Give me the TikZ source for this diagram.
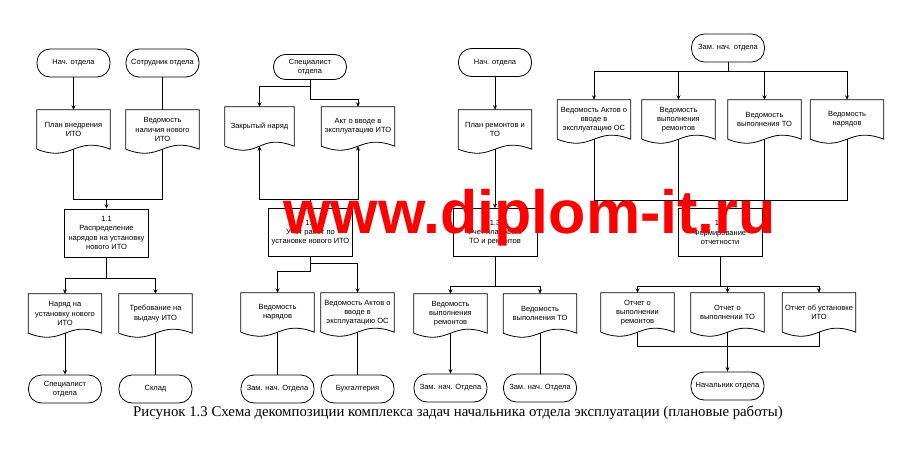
\documentclass[tikz,border=0pt]{standalone}
\usepackage{fontspec}
\newfontfamily\labfont{Liberation Sans}
\newfontfamily\capfont{Liberation Serif}
\newfontfamily\wmfont{Liberation Sans}
\usetikzlibrary{arrows.meta,calc}
\newcommand\lblfnt{\labfont\fontsize{7.5}{9.3}\selectfont}
\begin{document}
\begin{tikzpicture}[x=1pt,y=-1pt,
  term/.style={draw, line width=0.8pt, rounded corners=13pt, minimum width=73pt, minimum height=28pt, inner sep=0pt, align=center, font=\lblfnt},
  proc/.style={draw, line width=0.8pt, minimum width=84pt, minimum height=48pt, inner sep=0pt, align=center, font=\lblfnt},
  doc/.style={minimum width=73pt, minimum height=39pt, inner sep=0pt, align=center, font=\lblfnt},
  docline/.style={line width=0.8pt},
  conn/.style={line width=1pt},
  arr/.style={conn, -{Stealth[length=4.5pt,width=4pt]}}]
\fill[white] (0,0) rectangle (900,460);
\useasboundingbox (0,0) rectangle (900,460);
% column 1
\node[term] (t11) at (73.5,63) {Нач. отдела};
\node[term] (t12) at (162.5,63) {Сотрудник отдела};
\node[doc] (d11) at (73.5,129.5) {План внедрения\\ИТО};
\node[doc] (d12) at (162.5,129.5) {Ведомость\\наличия нового\\ИТО};
\node[proc] (p11) at (106.5,233) {1.1\\Распределение\\нарядов на установку\\нового ИТО};
\node[doc] (d13) at (65,313.5) {Наряд на\\установку нового\\ИТО};
\node[doc] (d14) at (155.5,313.5) {Требование на\\выдачу ИТО};
\node[term] (t13) at (65,389) {Специалист\\отдела};
\node[term] (t14) at (155.5,389) {Склад};
% column 2
\node[term, minimum height=25pt, rounded corners=12pt] (t21) at (310,67) {Специалист\\отдела};
\node[doc, minimum width=69pt] (d21) at (259.5,126.5) {Закрытый наряд};
\node[doc] (d22) at (358,126.5) {Акт о вводе в\\эксплуатацию ИТО};
\node[proc] (p21) at (310.5,232.5) {1.2\\Учет работ по\\установке нового ИТО};
\node[doc] (d23) at (277.5,312.5) {Ведомость\\нарядов};
\node[doc] (d24) at (357.5,312.5) {Ведомость Актов о\\вводе в\\эксплуатацию ОС};
\node[term] (t23) at (277.5,389) {Зам. нач. Отдела};
\node[term] (t24) at (357.5,389) {Бухгалтерия};
% column 3
\node[term] (t31) at (495,62.5) {Нач. отдела};
\node[doc] (d31) at (495,129.5) {План ремонтов и\\ТО};
\node[proc] (p31) at (495,232.5) {1.3\\Учет планового\\ТО и ремонтов};
\node[doc] (d32) at (450.5,313.5) {Ведомость\\выполнения\\ремонтов};
\node[doc] (d33) at (540,313.5) {Ведомость\\выполнения ТО};
\node[term] (t32) at (450.5,388) {Зам. нач. Отдела};
\node[term] (t33) at (540,388) {Зам. нач. Отдела};
% column 4
\node[term] (t41) at (728,48) {Зам. нач. отдела};
\node[doc] (d41) at (594,119.5) {Ведомость Актов о\\вводе в\\эксплуатацию ОС};
\node[doc] (d42) at (678.5,119.5) {Ведомость\\выполнения\\ремонтов};
\node[doc] (d43) at (764.5,119.5) {Ведомость\\выполнения ТО};
\node[doc] (d44) at (847,119.5) {Ведомость\\нарядов};
\node[proc] (p41) at (720,232.5) {1.4\\Формирование\\отчетности};
\node[doc] (d45) at (637.5,312.5) {Отчет о\\выполнении\\ремонтов};
\node[doc] (d46) at (727.5,312.5) {Отчет о\\выполнении ТО};
\node[doc] (d47) at (819,312.5) {Отчет об установке\\ИТО};
\node[term] (t42) at (727.5,386) {Начальник отдела};
% document outlines
\foreach \n in {d11,d12,d13,d14,d21,d22,d23,d24,d31,d32,d33,d41,d42,d43,d44,d45,d46,d47}{
  \draw[docline] (\n.south west) -- (\n.north west) -- (\n.north east) -- (\n.south east)
    .. controls ($(\n.south east)+(-36,-14)$) and ($(\n.south west)+(36,14)$) .. (\n.south west);
}
% connectors column 1
\draw[arr] (t11) -- (d11);
\draw[conn] (t12) -- (d12);
\path (p11.north) ++(0,-9) coordinate (j11);
\draw[conn] (d11.south) |- (j11);
\draw[conn] (d12.south) |- (j11);
\draw[arr] (j11) -- (p11.north);
\path (p11.south) ++(0,21) coordinate (j12);
\draw[conn] (p11.south) -- (j12);
\draw[arr] (j12) -| (d13.north);
\draw[arr] (j12) -| (d14.north);
\draw[arr] (d13.south) -- (t13.north);
\draw[conn] (d14.south) -- (t14.north);
% connectors column 2
\draw[arr] (t21.south) |- ($(d21.north)+(0,-20)$) -- (d21.north);
\draw[arr] (t21.south) |- ($(d22.north)+(0,-7)$) -- (d22.north);
\path (p21.north) ++(0,-9) coordinate (j21);
\draw[conn] (p21.north) -- (j21);
\draw[arr] (j21) -| (d21.south);
\draw[arr] (j21) -| (d22.south);
\draw[arr] (p21.south) |- ($(d23.north)+(0,-21)$) -- (d23.north);
\draw[arr] (p21.south) |- ($(d24.north)+(0,-29)$) -- (d24.north);
\draw[conn] (d23.south) -- (t23.north);
\draw[conn] (d24.south) -- (t24.north);
% connectors column 3
\draw[arr] (t31) -- (d31);
\draw[arr] (d31) -- (p31);
\path (p31.south) ++(0,30) coordinate (j31);
\draw[conn] (p31.south) -- (j31);
\draw[arr] (j31) -| (d32.north);
\draw[arr] (j31) -| (d33.north);
\draw[arr] (d32.south) -- (t32.north);
\draw[conn] (d33.south) -- (t33.north);
% connectors column 4
\path (t41.south) ++(0,9) coordinate (j41);
\draw[conn] (t41.south) -- (j41);
\foreach \n in {d41,d42,d43,d44}{\draw[arr] (j41) -| (\n.north);}
\path (p41.north) ++(0,-8) coordinate (j42);
\foreach \n in {d41,d42,d43,d44}{\draw[conn] (\n.south) |- (j42);}
\draw[arr] (j42) -- (p41.north);
\path (p41.south) ++(0,30) coordinate (j43);
\draw[conn] (p41.south) -- (j43);
\foreach \n in {d45,d46,d47}{\draw[arr] (j43) -| (\n.north);}
\path (d46.south) ++(0,14) coordinate (j44);
\draw[conn] (d45.south) |- (j44);
\draw[conn] (d47.south) |- (j44);
\draw[arr] (d46.south) -- (t42.north);
% watermark
\node[anchor=base west, inner sep=0pt, text=red, font=\wmfont\bfseries\fontsize{61}{61}\selectfont] (wm) at (283,233) {www.diplom-it.ru};
% caption
\node[font=\capfont\fontsize{14.8}{17}\selectfont, inner sep=0pt] (cap) at (458,413) {Рисунок 1.3 Схема декомпозиции комплекса задач начальника отдела эксплуатации (плановые работы)};
\end{tikzpicture}
\end{document}
